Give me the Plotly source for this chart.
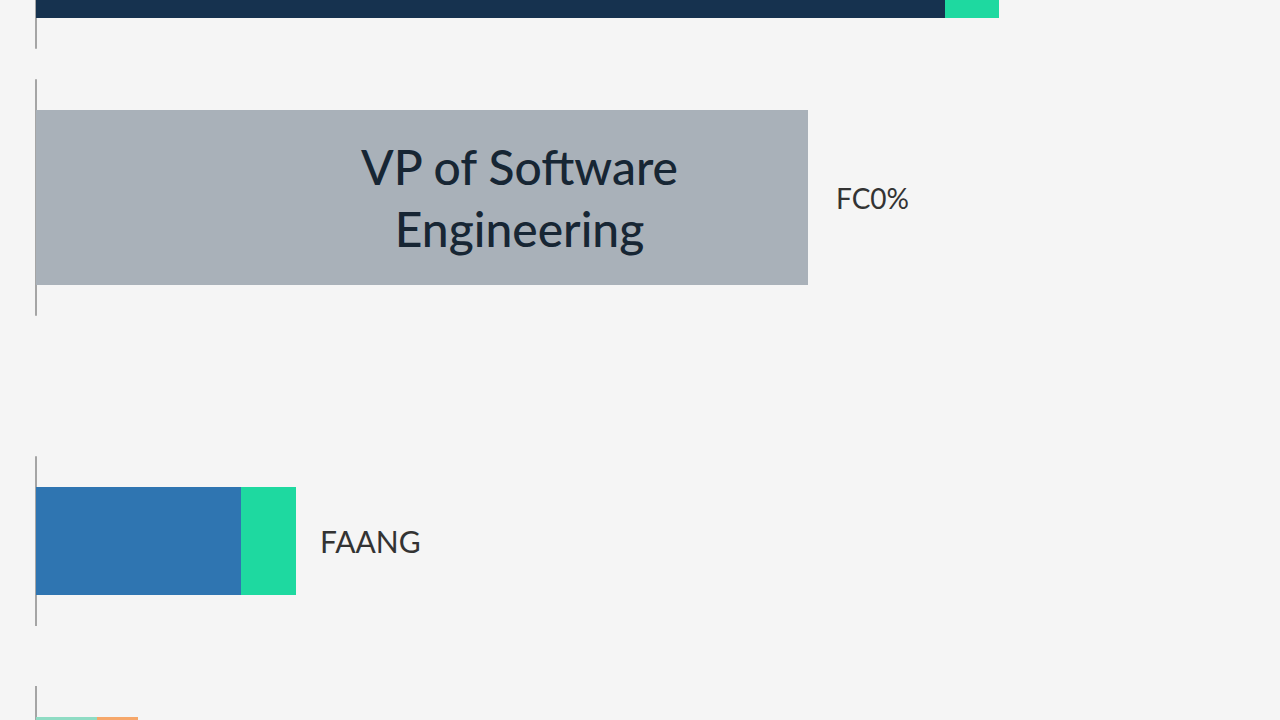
import plotly.graph_objects as go

# ---- data ----
categories = ["Top tier", "VP of Software Engineering", "FAANG", "Other"]
positions = [0, 1, 2, 3]
base_values = [117.7, 100.0, 26.6, 7.9]
bonus_values = [7.0, 0.0, 7.1, 5.3]
outside_labels = ["", "FC0%", "FAANG", ""]
inside_labels = ["", "VP of Software<br>Engineering", "", ""]

# ---- style ----
bar_widths = [0.954, 0.509, 0.314, 0.976]
base_colors = ["#16324f", "#a9b1b9", "#2f75b1", "#8fdcc4"]
bonus_colors = ["#1ed9a0", "#1ed9a0", "#1ed9a0", "#f6a76a"]
label_sizes = [26, 28, 30, 26]
label_shifts = [25, 26, 22, 25]
bg = "#f5f5f5"
axis_pad = 0.09

fig = go.Figure()
fig.add_trace(go.Bar(
    y=positions, x=base_values, orientation="h", width=bar_widths,
    marker=dict(color=base_colors, line=dict(width=0)), showlegend=False,
    hoverinfo="skip",
))
fig.add_trace(go.Bar(
    y=positions, x=bonus_values, orientation="h", width=bar_widths,
    marker=dict(color=bonus_colors, line=dict(width=0)), showlegend=False,
    hoverinfo="skip",
))

annotations = []
for p, b, bo, lab, ilab, fs, sh in zip(positions, base_values, bonus_values,
                                        outside_labels, inside_labels,
                                        label_sizes, label_shifts):
    if lab:
        annotations.append(dict(
            x=b + bo, y=p, xref="x", yref="y", text=lab, showarrow=False,
            xanchor="left", yanchor="middle", xshift=sh,
            font=dict(family="Lato, Open Sans, sans-serif", size=fs, color="#333333"),
        ))
    if ilab:
        annotations.append(dict(
            x=b * 0.626, y=p, xref="x", yref="y", text=ilab, showarrow=False,
            xanchor="center", yanchor="middle",
            font=dict(family="Lato, Open Sans, sans-serif", size=48, color="#172634",
                      weight=500),
        ))

shapes = []
for p, w in zip(positions, bar_widths):
    shapes.append(dict(
        type="line", xref="x", yref="y", x0=0, x1=0,
        y0=p - w / 2 - axis_pad, y1=p + w / 2 + axis_pad,
        line=dict(color="#8a8a8a", width=1.5), layer="below",
    ))

fig.update_layout(
    width=1280, height=720, autosize=False,
    margin=dict(l=0, r=0, t=0, b=0, pad=0),
    paper_bgcolor=bg, plot_bgcolor=bg,
    barmode="stack", bargap=0,
    xaxis=dict(range=[-4.663, 161.14], visible=False, showgrid=False, zeroline=False),
    yaxis=dict(range=[2.521, 0.425], visible=False, showgrid=False, zeroline=False),
    annotations=annotations, shapes=shapes,
)

fig.write_html(
    "out.html",
    config={"displayModeBar": False},
    post_script="document.body.style.margin='0';document.body.style.overflow='hidden';",
)
